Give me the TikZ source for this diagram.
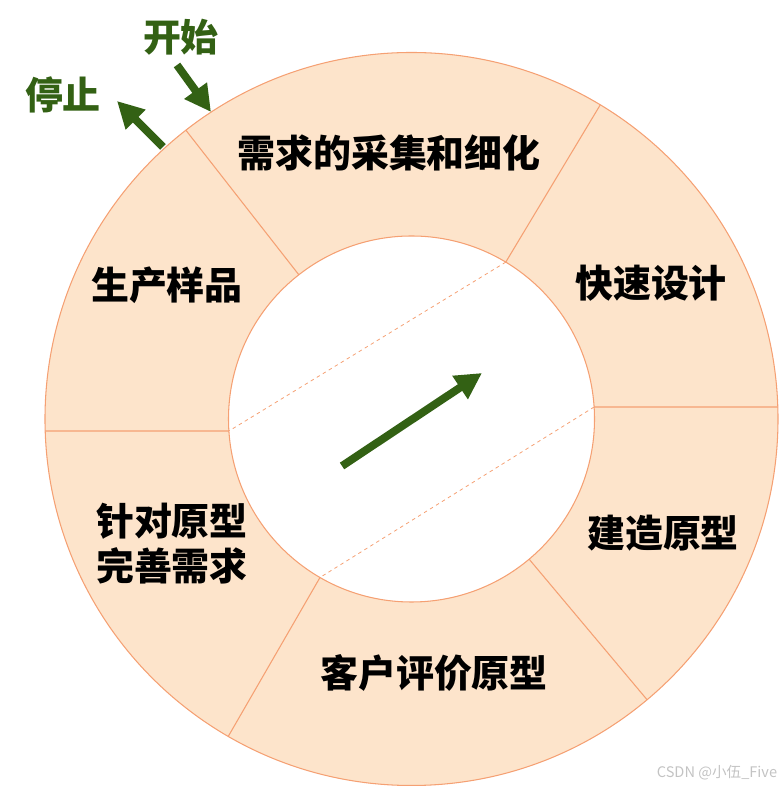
\documentclass[tikz,border=0pt]{standalone}
\usepackage{fontspec}
\newfontfamily\cjk{Noto Sans CJK SC}
\usetikzlibrary{arrows.meta}
\definecolor{ringfill}{RGB}{253,228,203}
\definecolor{ringline}{RGB}{245,160,115}
\definecolor{arrowgreen}{RGB}{51,97,20}
\definecolor{markgray}{RGB}{195,195,195}

\begin{document}
\begin{tikzpicture}[x=0.02cm, y=0.02cm,
    stage/.style={font={\cjk\bfseries\fontsize{21.6}{25.5}\selectfont}, align=center, inner sep=0pt},
    flag/.style={font={\cjk\bfseries\fontsize{21.6}{25.5}\selectfont}, text=arrowgreen, inner sep=0pt},
    flow/.style={draw=arrowgreen, line width=4.5pt, -{Triangle[length=15pt,width=15pt]}},
    divider/.style={draw=ringline, line width=0.6pt}]
  \useasboundingbox (-411.5,-367) rectangle (367.5,419);

  % ring
  \fill[ringfill, even odd rule] (0,0) circle (366.5) (0,0) circle (183);
  \draw[divider] (0,0) circle (366.5);
  \draw[divider] (0,0) circle (183);

  % dividers between the stages
  \draw[divider] (128:183)    -- (128:366.5);
  \draw[divider] (59:183)     -- (59:366.5);
  \draw[divider] (3.76:183)   -- (1.88:366.5);
  \draw[divider] (-50:183)    -- (-50:366.5);
  \draw[divider] (-120:183)   -- (-120:366.5);
  \draw[divider] (183.76:183) -- (181.88:366.5);
  \draw[divider, line width=0.45pt, dash pattern=on 2pt off 2pt] (59:183)   -- (183.76:183);
  \draw[divider, line width=0.45pt, dash pattern=on 2pt off 2pt] (3.76:183) -- (-120:183);

  % stages
  \node (req)    [stage] at (-22.5,266)  {需求的采集和细化};
  \node (design) [stage] at (239.5,136)  {快速设计};
  \node (build)  [stage] at (251.5,-114) {建造原型};
  \node (eval)   [stage] at (22.5,-254)  {客户评价原型};
  \node (refine) [stage] at (-239.5,-125) {针对原型\\完善需求};
  \node (prod)   [stage] at (-244.5,134) {生产样品};

  % start and stop
  \node (start) [flag] at (-230.5,382) {开始};
  \node (stop)  [flag] at (-348.5,324) {停止};
  \coordinate (starttail) at (-234.5,354);
  \coordinate (starttip)  at (-200.5,307);
  \coordinate (stoptail)  at (-248.5,272);
  \coordinate (stoptip)   at (-294.5,318);
  \draw[flow] (starttail) -- (starttip);
  \draw[flow] (stoptail) -- (stoptip);

  % direction of the cycle
  \coordinate (dirtail) at (-69.5,-47);
  \coordinate (dirtip)  at (70.5,46);
  \draw[flow] (dirtail) -- (dirtip);

  \node (mark) [font={\cjk\fontsize{8.3}{10}\selectfont}, text=markgray, inner sep=0pt]
        at (305.5,-354) {CSDN @小伍\_Five};
\end{tikzpicture}
\end{document}
